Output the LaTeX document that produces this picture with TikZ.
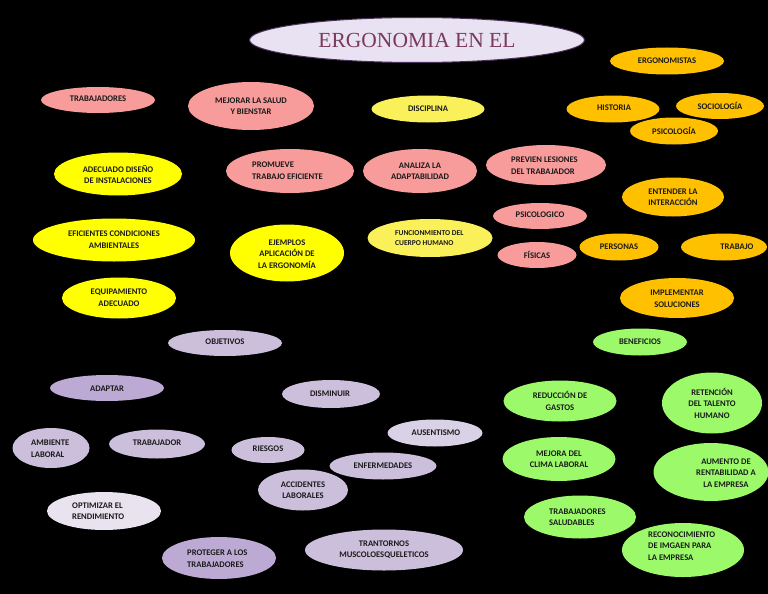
\documentclass[tikz,border=0pt]{standalone}
\usepackage{fontspec}
\setmainfont{Carlito}
\newfontfamily\titlefont{Liberation Serif}
\usetikzlibrary{shapes.geometric}
\definecolor{cpink}{HTML}{F79B9B}
\definecolor{cyel}{HTML}{FFFF00}
\definecolor{clyel}{HTML}{FAF05A}
\definecolor{corg}{HTML}{FFC000}
\definecolor{cgrn}{HTML}{9CFA6A}
\definecolor{clav}{HTML}{CBBFDC}
\definecolor{clavd}{HTML}{BCAAD4}
\definecolor{clavl}{HTML}{D9D1E6}
\definecolor{clavx}{HTML}{E8E3EF}
\definecolor{ctitle}{HTML}{E8E2F2}
\definecolor{ctitleb}{HTML}{4B2F5B}
\definecolor{ctitlet}{HTML}{7A3A5C}
\definecolor{ctxt}{HTML}{1A1A1A}
\tikzset{
  bub/.style={ellipse, inner sep=0pt, draw=none},
  lbl/.style={inner sep=0pt, text=ctxt, font=\fontsize{8.6}{11.5}\selectfont\bfseries},
  lbls/.style={inner sep=0pt, text=ctxt, font=\fontsize{7.5}{10}\selectfont\bfseries},
}
\newcommand{\bub}[6]{\node[bub, fill=#6, minimum width=#4pt, minimum height=#5pt] (#1) at (#2,#3) {};}
\begin{document}
\begin{tikzpicture}[x=1pt,y=-1pt]
\fill[black] (0,0) rectangle (768,594);
\useasboundingbox (0,0) rectangle (768,594);

% title
\node[bub, fill=ctitle, draw=ctitleb, line width=1pt, minimum width=335pt, minimum height=45pt] (title) at (417,40) {};
\node[inner sep=0pt, text=ctitlet, font=\titlefont\fontsize{21.5}{24}\selectfont] (titlet) at (417,40) {ERGONOMIA EN EL};

% pink
\bub{trab}{98}{100}{114}{26}{cpink}
\node[lbl] (trabt) at (98,99) {TRABAJADORES};
\bub{mej}{251}{106}{126}{48}{cpink}
\node[lbl, align=center] (mejt) at (251,106) {MEJORAR LA SALUD\\Y BIENSTAR};
\bub{prom}{290}{171}{128}{44}{cpink}
\node[lbl, align=left, anchor=west] (promt) at (252,170.5) {PROMUEVE\\TRABAJO EFICIENTE};
\bub{anal}{420}{171}{114}{44}{cpink}
\node[lbl, align=center] (analt) at (420,171) {ANALIZA LA\\ADAPTABILIDAD};
\bub{prev}{546}{165}{120}{40}{cpink}
\node[lbl, align=left, anchor=west] (prevt) at (511,165.5) {PREVIEN LESIONES\\DEL TRABAJADOR};
\bub{psico}{540}{216}{94}{26}{cpink}
\node[lbl] (psicot) at (540,215) {PSICOLOGICO};
\bub{fis}{537}{255}{79}{26}{cpink}
\node[lbl] (fist) at (537,255) {FÍSICAS};

% yellow
\bub{disc}{428}{109}{113}{27}{clyel}
\node[lbl] (disct) at (428,109) {DISCIPLINA};
\bub{func}{430}{238}{125}{38}{clyel}
\node[lbls, align=left, anchor=west] (funct) at (395,238) {FUNCIONMIENTO DEL\\CUERPO HUMANO};
\bub{adec}{118}{174}{128}{43}{cyel}
\node[lbl, align=center] (adect) at (118,174.5) {ADECUADO DISEÑO\\DE INSTALACIONES};
\bub{efic}{114}{240}{162}{43}{cyel}
\node[lbl, align=center] (efict) at (114,239.5) {EFICIENTES CONDICIONES\\AMBIENTALES};
\bub{ejem}{287}{253}{114}{57}{cyel}
\node[lbl, align=center] (ejemt) at (287,254) {EJEMPLOS\\APLICACIÓN DE\\LA ERGONOMÍA};
\bub{equi}{119}{298}{114}{41}{cyel}
\node[lbl, align=center] (equit) at (119,297.5) {EQUIPAMIENTO\\ADECUADO};

% orange
\bub{ergo}{667}{61}{114}{27}{corg}
\node[lbl] (ergot) at (667,61) {ERGONOMISTAS};
\bub{hist}{613}{109}{93}{27}{corg}
\node[lbl] (histt) at (614,108) {HISTORIA};
\bub{soc}{720}{106}{88}{26}{corg}
\node[lbl] (soct) at (720,106) {SOCIOLOGÍA};
\bub{psic}{674}{131}{88}{27}{corg}
\node[lbl] (psict) at (674,131) {PSICOLOGÍA};
\bub{ent}{673}{197}{102}{39}{corg}
\node[lbl, align=center] (entt) at (673,197) {ENTENDER LA\\INTERACCIÓN};
\bub{pers}{619}{247}{79}{27}{corg}
\node[lbl] (perst) at (619,247) {PERSONAS};
\bub{trbj}{724}{247}{86}{27}{corg}
\node[lbl] (trbjt) at (737,247) {TRABAJO};
\bub{impl}{677}{298}{114}{40}{corg}
\node[lbl, align=center] (implt) at (677,298.5) {IMPLEMENTAR\\SOLUCIONES};

% green
\bub{benef}{640}{342}{94}{27}{cgrn}
\node[lbl] (beneft) at (640,342) {BENEFICIOS};
\bub{red}{560}{401}{113}{41}{cgrn}
\node[lbl, align=center] (redt) at (560,401) {REDUCCIÓN DE\\GASTOS};
\bub{ret}{712}{403}{100}{61}{cgrn}
\node[lbl, align=center] (rett) at (712,403) {RETENCIÓN\\DEL TALENTO\\HUMANO};
\bub{clima}{559}{459}{113}{44}{cgrn}
\node[lbl, align=center] (climat) at (559,459) {MEJORA DEL\\CLIMA LABORAL};
\bub{aum}{711}{472}{115}{58}{cgrn}
\node[lbl, align=center] (aumt) at (726,473) {AUMENTO DE\\RENTABILIDAD A\\LA EMPRESA};
\bub{sal}{580}{517}{112}{43}{cgrn}
\node[lbl, align=left, anchor=west] (salt) at (549,517) {TRABAJADORES\\SALUDABLES};
\bub{rec}{683}{550}{122}{54}{cgrn}
\node[lbl, align=left, anchor=west] (rect) at (648,546) {RECONOCIMIENTO\\DE IMGAEN PARA\\LA EMPRESA};

% lavender
\bub{obj}{225}{343}{114}{26}{clav}
\node[lbl] (objt) at (225,342) {OBJETIVOS};
\bub{adap}{107}{388}{114}{26}{clavd}
\node[lbl] (adapt) at (107,388.5) {ADAPTAR};
\bub{dism}{331}{394}{98}{28}{clav}
\node[lbl] (dismt) at (330,394) {DISMINUIR};
\bub{amb}{51}{448}{77}{40}{clav}
\node[lbl, align=left, anchor=west] (ambt) at (31,448.5) {AMBIENTE\\LABORAL};
\bub{trbr}{157}{444}{96}{29}{clav}
\node[lbl] (trbrt) at (157,443) {TRABAJADOR};
\bub{ries}{268}{450}{73}{26}{clav}
\node[lbl] (riest) at (268,449) {RIESGOS};
\bub{aus}{435}{433}{95}{27}{clavl}
\node[lbl] (aust) at (436,433) {AUSENTISMO};
\bub{enf}{383}{466}{107}{27}{clav}
\node[lbl] (enft) at (383,466) {ENFERMEDADES};
\bub{acc}{303}{490}{90}{41}{clav}
\node[lbl, align=center] (acct) at (303,490) {ACCIDENTES\\LABORALES};
\bub{opt}{104}{511}{114}{38}{clavx}
\node[lbl, align=left, anchor=west] (optt) at (72,511) {OPTIMIZAR EL\\RENDIMIENTO};
\bub{prot}{219}{558}{114}{42}{clavd}
\node[lbl, align=left, anchor=west] (prott) at (187,558.5) {PROTEGER A LOS\\TRABAJADORES};
\bub{tran}{384}{550}{158}{41}{clav}
\node[lbl, align=center] (trant) at (384,549.5) {TRANTORNOS\\MUSCOLOESQUELETICOS};
\end{tikzpicture}
\end{document}
